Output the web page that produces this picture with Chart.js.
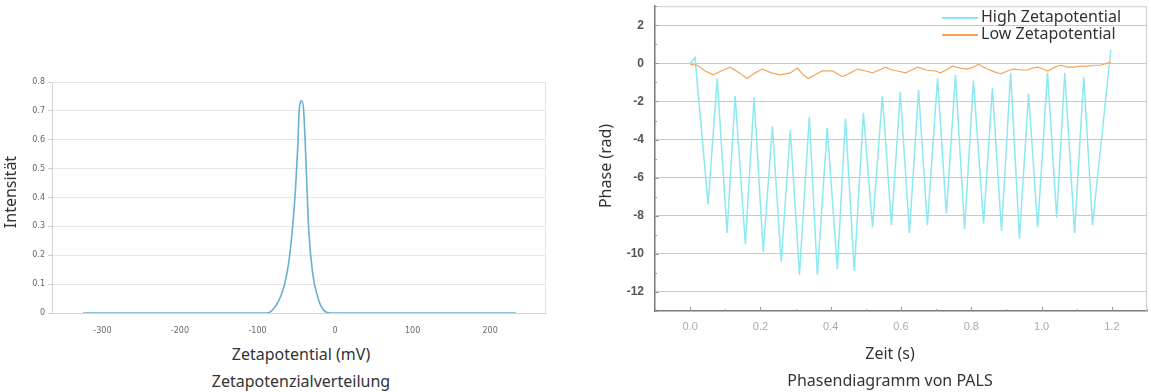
<!DOCTYPE html>
<html>
<head>
<meta charset="utf-8">
<script src="https://cdn.jsdelivr.net/npm/chart.js@4.4.0/dist/chart.umd.min.js"></script>
<style>
  body { margin: 0; background: #fff; width: 1151px; height: 392px; position: relative; overflow: hidden; font-family: "Noto Sans", sans-serif; color: #333; }
  canvas { position: absolute; }
  .lbl { position: absolute; font-size: 16px; line-height: 20px; height: 20px; white-space: nowrap; text-align: center; }
  .rot { transform: rotate(-90deg); }
  #phase-legend { position: absolute; left: 942px; top: 8px; font-size: 16px; line-height: 17px; }
  #phase-legend div { white-space: nowrap; }
  #phase-legend .swatch { display: inline-block; width: 36px; vertical-align: middle; margin-right: 3px; }
</style>
</head>
<body>
<canvas id="zeta-chart" width="560" height="280" style="left:0;top:60px"></canvas>
<canvas id="phase-chart" width="556" height="358" style="left:600px;top:-12px"></canvas>

<div class="lbl rot" style="left:-40px;top:182px;width:100px">Intensität</div>
<div class="lbl" style="left:201px;top:344px;width:200px">Zetapotential (mV)</div>
<div class="lbl" style="left:201px;top:371px;width:200px">Zetapotenzialverteilung</div>

<div class="lbl rot" style="left:555px;top:156px;width:100px">Phase (rad)</div>
<div class="lbl" style="left:790px;top:343px;width:200px">Zeit (s)</div>
<div class="lbl" style="left:740px;top:370px;width:300px">Phasendiagramm von PALS</div>
<div id="phase-legend"></div>

<script>
// Zeta potential distribution (left)
const zetaMv = [-325, -250, -180, -120, -95, -86, -80, -73, -66, -60, -55, -51, -48, -46, -43, -40.5, -37, -34, -29, -22.5, -15, -6, 20, 100, 180, 233];
const intensity = [0, 0, 0, 0, 0, 0.001, 0.012, 0.04, 0.09, 0.17, 0.29, 0.43, 0.58, 0.71, 0.735, 0.70, 0.49, 0.29, 0.14, 0.056, 0.01, 0, 0, 0, 0, 0];
const zetaTicks = [-300, -200, -100, 0, 100, 200];

// Phase plot (right) - zigzag vertices of the high zeta sample
const highTime = [0.000, 0.014, 0.051, 0.077, 0.105, 0.128, 0.157, 0.182, 0.208, 0.234, 0.259, 0.285, 0.311, 0.339, 0.362, 0.390, 0.419, 0.442, 0.467, 0.493, 0.519, 0.547, 0.573, 0.598, 0.624, 0.650, 0.675, 0.704, 0.729, 0.755, 0.781, 0.806, 0.835, 0.860, 0.886, 0.912, 0.937, 0.963, 0.989, 1.017, 1.043, 1.066, 1.094, 1.120, 1.145, 1.197];
const highPhase = [0, 0.3, -7.4, -0.8, -8.9, -1.7, -9.5, -1.8, -9.9, -3.3, -10.4, -3.5, -11.1, -2.8, -11.1, -3.4, -10.8, -2.9, -10.9, -2.6, -8.6, -1.7, -8.5, -1.5, -8.9, -1.4, -8.5, -0.8, -7.9, -0.6, -8.7, -0.9, -8.4, -1.3, -8.8, -0.5, -9.2, -1.6, -8.6, -0.5, -8.1, -0.5, -8.9, -0.7, -8.5, 0.7];

// low zeta sample stays near zero
const lowTime = [0.000, 0.020, 0.043, 0.066, 0.088, 0.114, 0.140, 0.162, 0.185, 0.205, 0.231, 0.256, 0.285, 0.305, 0.322, 0.336, 0.356, 0.376, 0.405, 0.433, 0.456, 0.476, 0.499, 0.519, 0.538, 0.556, 0.575, 0.590, 0.613, 0.630, 0.647, 0.672, 0.698, 0.712, 0.729, 0.746, 0.769, 0.789, 0.806, 0.821, 0.835, 0.846, 0.866, 0.883, 0.903, 0.920, 0.940, 0.960, 0.974, 0.989, 1.003, 1.017, 1.037, 1.054, 1.074, 1.091, 1.111, 1.131, 1.151, 1.168, 1.185, 1.197];
const lowPhase = [-0.05, -0.1, -0.4, -0.6, -0.4, -0.2, -0.5, -0.8, -0.5, -0.3, -0.5, -0.6, -0.5, -0.25, -0.6, -0.8, -0.6, -0.4, -0.4, -0.7, -0.5, -0.3, -0.4, -0.5, -0.35, -0.2, -0.35, -0.4, -0.5, -0.35, -0.2, -0.35, -0.4, -0.5, -0.35, -0.15, -0.25, -0.3, -0.2, -0.05, -0.2, -0.3, -0.45, -0.55, -0.4, -0.3, -0.35, -0.35, -0.25, -0.2, -0.3, -0.4, -0.2, -0.1, -0.2, -0.2, -0.15, -0.15, -0.1, -0.1, 0.0, 0.05];

const seriesNames = ['High Zetapotential', 'Low Zetapotential'];

// draws the light top/right border around the plot area
const framePlugin = {
  id: 'frame',
  afterDraw(chart, args, opts) {
    const { ctx, chartArea: a } = chart;
    ctx.save();
    ctx.strokeStyle = opts.color || '#ddd';
    ctx.lineWidth = 1;
    ctx.beginPath();
    ctx.moveTo(a.left, a.top + 0.5);
    ctx.lineTo(a.right - 0.5, a.top + 0.5);
    ctx.lineTo(a.right - 0.5, a.bottom);
    ctx.stroke();
    ctx.restore();
  }
};

// small tick marks pointing into the plot
const innerTicksPlugin = {
  id: 'innerTicks',
  afterDraw(chart) {
    const { ctx, chartArea: a, scales } = chart;
    ctx.save();
    ctx.strokeStyle = '#999';
    ctx.lineWidth = 1;
    ctx.beginPath();
    scales.x.ticks.forEach(t => {
      const px = Math.round(scales.x.getPixelForValue(t.value)) + 0.5;
      const len = t.label !== '' ? 4 : 2;
      ctx.moveTo(px, a.bottom);
      ctx.lineTo(px, a.bottom - len);
    });
    scales.y.ticks.forEach(t => {
      const py = Math.round(scales.y.getPixelForValue(t.value)) + 0.5;
      const len = t.label !== '' ? 4 : 2;
      ctx.moveTo(a.left, py);
      ctx.lineTo(a.left + len, py);
    });
    ctx.stroke();
    ctx.restore();
  }
};

document.addEventListener('DOMContentLoaded', () => {
  new Chart(document.getElementById('zeta-chart'), {
    type: 'line',
    data: {
      datasets: [{
        data: zetaMv.map((v, i) => ({ x: v, y: intensity[i] })),
        borderColor: '#68b0d4',
        borderWidth: 1.6,
        pointRadius: 0,
        cubicInterpolationMode: 'monotone',
        fill: false
      }]
    },
    options: {
      responsive: false,
      animation: false,
      layout: { padding: { left: 0, right: 14, top: 22, bottom: 7 } },
      plugins: { legend: { display: false }, tooltip: { enabled: false }, frame: { color: '#e2e2e2' } },
      scales: {
        x: {
          type: 'linear',
          min: -365,
          max: 272,
          afterBuildTicks: (scale) => { scale.ticks = zetaTicks.map(v => ({ value: v })); },
          afterFit: (scale) => { scale.height = 20; },
          grid: { display: false },
          border: { color: '#d4d4d4' },
          ticks: { font: { family: 'DejaVu Sans', size: 8 }, color: '#666', padding: 5, maxRotation: 0 }
        },
        y: {
          min: 0,
          max: 0.8,
          afterFit: (scale) => { scale.width = 52; },
          grid: { color: '#e6e6e6', tickLength: 4, tickColor: '#cfcfcf' },
          border: { color: '#d4d4d4' },
          ticks: { stepSize: 0.1, font: { family: 'DejaVu Sans', size: 8 }, color: '#666', padding: 3 }
        }
      }
    },
    plugins: [framePlugin]
  });

  const phaseChart = new Chart(document.getElementById('phase-chart'), {
    type: 'line',
    data: {
      datasets: [
        {
          label: seriesNames[0],
          data: highTime.map((t, i) => ({ x: t, y: highPhase[i] })),
          borderColor: '#8ce9f1',
          borderWidth: 1.5,
          pointRadius: 0,
          tension: 0,
          order: 2
        },
        {
          label: seriesNames[1],
          data: lowTime.map((t, i) => ({ x: t, y: lowPhase[i] })),
          borderColor: '#f2a55a',
          borderWidth: 1.2,
          pointRadius: 0,
          tension: 0,
          order: 1
        }
      ]
    },
    options: {
      responsive: false,
      animation: false,
      layout: { padding: { left: 0, right: 4, top: 5, bottom: 11 } },
      plugins: { legend: { display: false }, tooltip: { enabled: false }, frame: { color: '#cfcfcf' } },
      scales: {
        x: {
          type: 'linear',
          min: -0.1,
          max: 1.3,
          afterFit: (scale) => { scale.height = 24; },
          grid: { display: false, drawTicks: false },
          border: { color: '#7a7a7a', width: 1.5 },
          ticks: {
            stepSize: 0.1,
            autoSkip: false,
            maxRotation: 0,
            padding: 9,
            font: { family: 'Liberation Sans', size: 11 },
            color: '#aaa',
            callback: (v) => (Math.round(v * 10) % 2 === 0 ? v.toFixed(1) : '')
          }
        },
        y: {
          min: -13,
          max: 3,
          afterFit: (scale) => { scale.width = 55; },
          grid: {
            drawTicks: false,
            color: (c) => (c.tick && Math.round(c.tick.value) % 2 === 0 ? '#c9c9c9' : 'rgba(0,0,0,0)')
          },
          border: { color: '#7a7a7a', width: 1.5 },
          ticks: {
            stepSize: 1,
            autoSkip: false,
            padding: 11,
            font: { family: 'Liberation Sans', size: 12, weight: 'bold' },
            color: '#555',
            callback: (v) => (Math.round(v) % 2 === 0 ? String(v) : '')
          }
        }
      }
    },
    plugins: [framePlugin, innerTicksPlugin]
  });

  // html legend built from the chart datasets
  const legendEl = document.getElementById('phase-legend');
  phaseChart.data.datasets.forEach(ds => {
    const row = document.createElement('div');
    const sw = document.createElement('span');
    sw.className = 'swatch';
    sw.style.borderTop = '2px solid ' + ds.borderColor;
    const txt = document.createElement('span');
    txt.textContent = ds.label;
    row.appendChild(sw);
    row.appendChild(txt);
    legendEl.appendChild(row);
  });
});
</script>
</body>
</html>
